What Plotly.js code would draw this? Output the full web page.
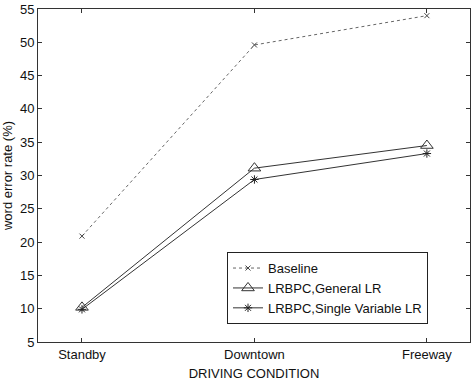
<!DOCTYPE html>
<html>
<head>
<meta charset="utf-8">
<script src="https://cdn.plot.ly/plotly-3.0.1.min.js"></script>
<style>html,body{margin:0;padding:0;background:#fff;}#chart{width:474px;height:381px;}</style>
</head>
<body>
<div id="chart"></div>
<script>
const categories = ["Standby", "Downtown", "Freeway"];
const baseline = [20.9, 49.6, 54.0];
const generalLR = [10.2, 31.1, 34.5];
const singleVarLR = [9.9, 29.4, 33.3];
const seriesNames = ["Baseline", "LRBPC,General LR", "LRBPC,Single Variable LR"];
const yTicks = [5, 10, 15, 20, 25, 30, 35, 40, 45, 50, 55];

const idx = categories.map((c, i) => i);
const traces = [
  {x: idx, y: baseline, name: seriesNames[0], mode: "lines+markers",
   line: {color: "#666", width: 1, dash: "3px,3px"},
   marker: {symbol: "x-thin-open", size: 5, color: "#444", line: {width: 1, color: "#444"}}},
  {x: idx, y: generalLR, name: seriesNames[1], mode: "lines+markers",
   line: {color: "#333", width: 1},
   marker: {symbol: "triangle-up-open", size: 11, color: "#333", line: {width: 1, color: "#333"}}},
  {x: idx, y: singleVarLR, name: seriesNames[2], mode: "lines+markers",
   line: {color: "#333", width: 1},
   marker: {symbol: "asterisk-open", size: 7, color: "#222", line: {width: 1, color: "#222"}}}
];

const layout = {
  width: 474, height: 381,
  margin: {l: 38, r: 4, t: 9, b: 39},
  paper_bgcolor: "#fff", plot_bgcolor: "#fff",
  font: {family: "Liberation Sans, Arial, sans-serif", size: 13, color: "#111"},
  showlegend: true,
  legend: {x: 0.4375, y: 0.27, xanchor: "left", yanchor: "top",
    bordercolor: "#222", borderwidth: 1, bgcolor: "#fff", itemwidth: 30,
    font: {size: 13, color: "#111"}, tracegroupgap: 0},
  xaxis: {
    range: [-0.255, 2.25], tickmode: "array", tickvals: idx, ticktext: categories,
    showgrid: false, zeroline: false, showline: true, linecolor: "#333", linewidth: 1,
    mirror: "ticks", ticks: "inside", ticklen: 4, tickcolor: "#333",
    tickfont: {size: 13},
    title: {text: "DRIVING CONDITION", font: {size: 13}, standoff: 11}
  },
  yaxis: {
    range: [5, 55], tickmode: "array", tickvals: yTicks,
    showgrid: false, zeroline: false, showline: true, linecolor: "#333", linewidth: 1,
    mirror: "ticks", ticks: "inside", ticklen: 4, tickcolor: "#333",
    tickfont: {size: 13},
    title: {text: "word error rate (%)", font: {size: 13}, standoff: 6}
  }
};

Plotly.newPlot("chart", traces, layout, {displayModeBar: false, staticPlot: true});
</script>
</body>
</html>
